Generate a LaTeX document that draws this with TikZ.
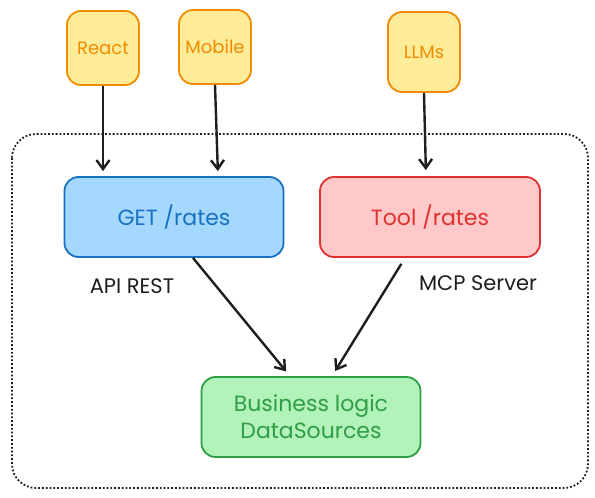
\documentclass[tikz,border=0pt]{standalone}
\usepackage{fontspec}
\setmainfont{Poppins}
\usepackage{xcolor}
\usetikzlibrary{arrows.meta, positioning, calc}
\definecolor{clientfill}{HTML}{FFEC99}
\definecolor{clientline}{HTML}{F08C00}
\definecolor{restfill}{HTML}{A5D8FF}
\definecolor{restline}{HTML}{1971C2}
\definecolor{mcpfill}{HTML}{FFC9C9}
\definecolor{mcpline}{HTML}{E03131}
\definecolor{logicfill}{HTML}{B2F2BB}
\definecolor{logicline}{HTML}{2F9E44}
\definecolor{inkgray}{HTML}{1E1E1E}

\begin{document}
\begin{tikzpicture}[x=1pt, y=-1pt,
    client/.style={rectangle, rounded corners=14pt, draw=clientline, fill=clientfill,
                   line width=1.8pt, minimum width=72pt, minimum height=74pt,
                   text=clientline, font=\fontsize{18}{22}\selectfont},
    service/.style={rectangle, rounded corners=14pt, line width=1.8pt,
                    minimum width=219pt, minimum height=80pt, align=center,
                    font=\fontsize{22}{27}\selectfont},
    caption/.style={text=inkgray, font=\fontsize{21}{25}\selectfont},
    flow/.style={-{Straight Barb[length=9pt, width=13pt]}, line width=2.4pt, draw=inkgray}
]
\useasboundingbox (0,0) rectangle (595,498);

% server frame
\draw[dotted, line width=1.8pt, draw=inkgray, rounded corners=24pt] (12,134) rectangle (588,488);

% clients
\node[client] (react) at (103,48) {React};
\node[client] (mobile) at (215,47) {Mobile};
\node[client, minimum height=80pt] (llms) at (424,52) {LLMs};

% services
\node[service, draw=restline, fill=restfill, text=restline] (get) at (174,217) {GET /rates};
\node[service, draw=mcpline, fill=mcpfill, text=mcpline, minimum width=220pt] (tool) at (430,217) {Tool /rates};
\node[service, draw=logicline, fill=logicfill, text=logicline] (logic) at (311,417) {Business logic\\DataSources};

\node[caption] (rest) at (132,286) {API REST};
\node[caption] (mcp) at (478,283) {MCP Server};

% calls
\draw[flow, shorten >=5pt] (react.south) -- (react.south |- get.north);
\draw[flow, shorten >=5pt] (mobile.south) -- ([xshift=3pt]mobile.south |- get.north);
\draw[flow, shorten >=6pt] (llms.south) -- ([xshift=2pt]llms.south |- tool.north);
\draw[flow, shorten >=6pt] ([xshift=19pt]get.south) -- ([xshift=-21pt]logic.north);
\draw[flow, shorten <=7pt, shorten >=6pt] ([xshift=-25pt]tool.south) -- ([xshift=21pt]logic.north);
\end{tikzpicture}
\end{document}
